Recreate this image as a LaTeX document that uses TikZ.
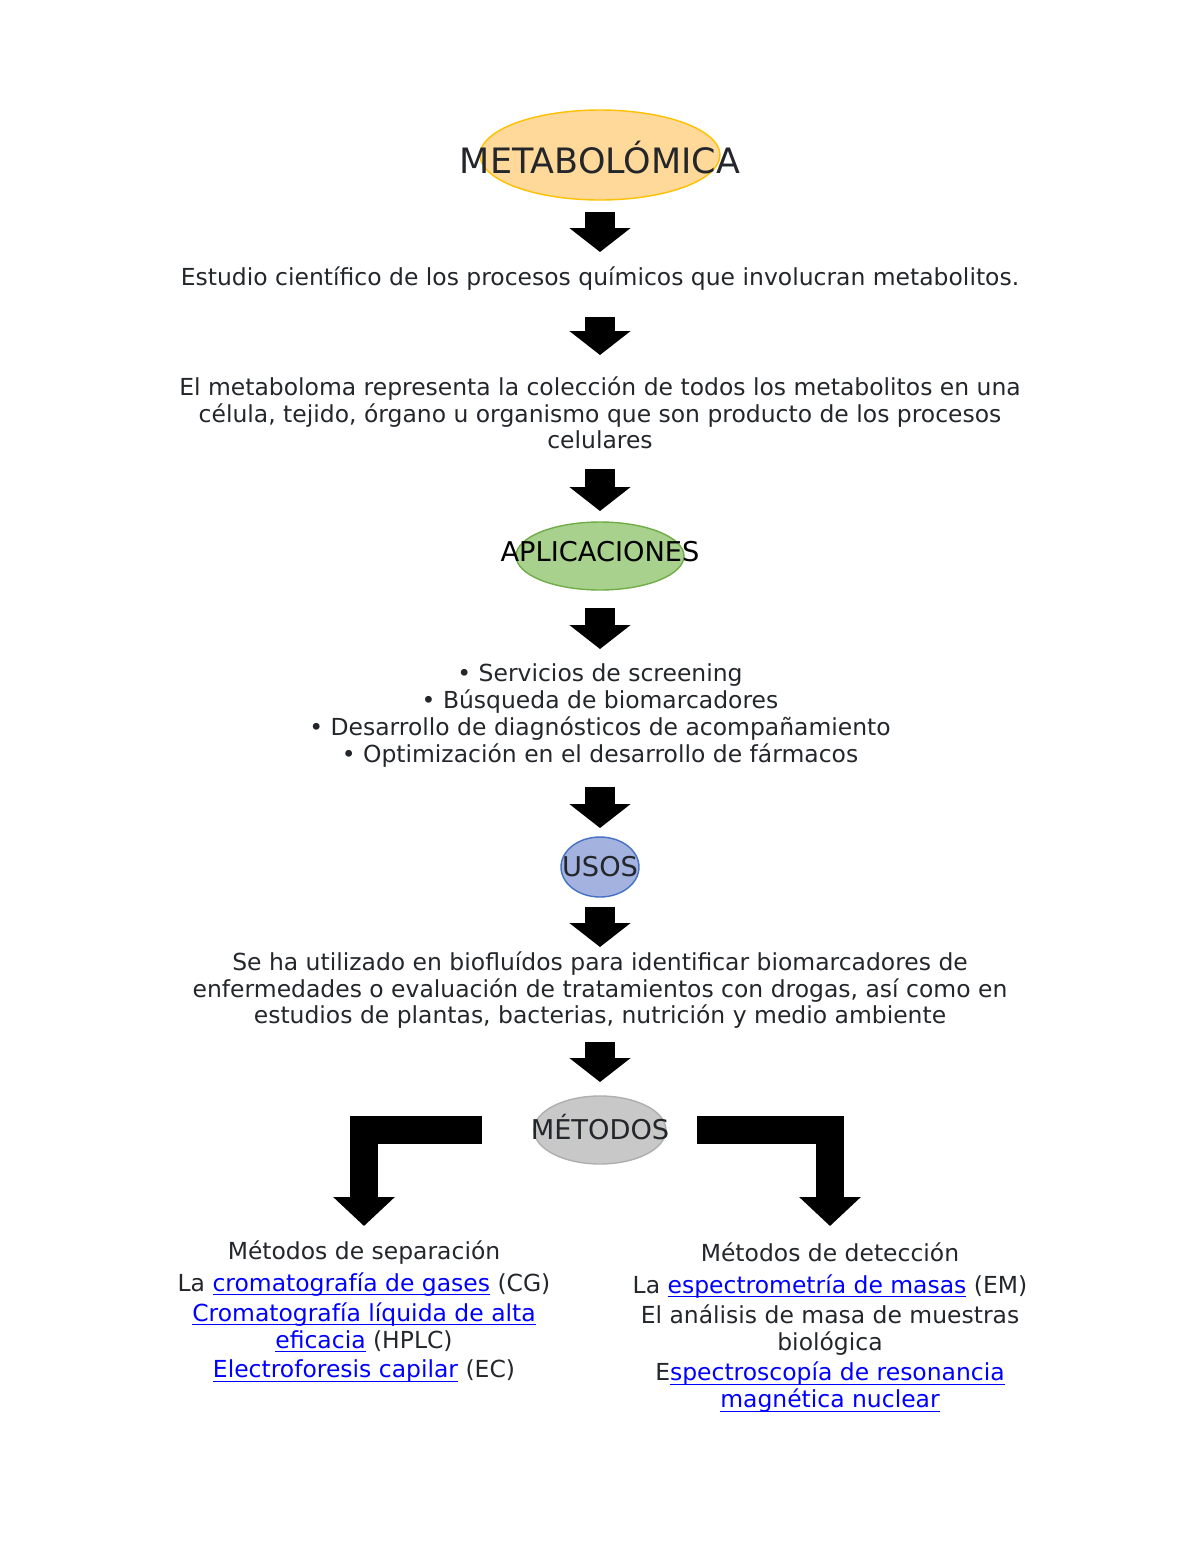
\documentclass[tikz,border=0pt]{standalone}
\usepackage{fontspec}
\setmainfont{DejaVu Sans}
\usetikzlibrary{arrows.meta,shapes.geometric}

\definecolor{inkgray}{RGB}{35,38,42}
\definecolor{linkblue}{RGB}{0,0,255}
\definecolor{orangefill}{RGB}{255,217,153}
\definecolor{orangeline}{RGB}{255,192,0}
\definecolor{greenfill}{RGB}{169,209,142}
\definecolor{greenline}{RGB}{112,173,71}
\definecolor{bluefill}{RGB}{164,178,224}
\definecolor{blueline}{RGB}{68,114,196}
\definecolor{grayfill}{RGB}{200,200,200}
\definecolor{grayline}{RGB}{175,175,175}

\newcommand{\lnk}[1]{\textcolor{linkblue}{\sbox0{#1}\rlap{\rule[-2.4pt]{\wd0}{0.7pt}}\usebox0}}

\begin{document}
\begin{tikzpicture}[x=0.02cm,y=-0.02cm,
    blockarr/.style={line width=0.6cm,-{Triangle[width=1.2cm,length=0.48cm]}},
    bentarr/.style={line width=0.56cm,-{Triangle[width=1.2cm,length=0.58cm]}},
    oval/.style={ellipse,draw,line width=0.8pt,inner sep=0pt},
    ovaltext/.style={font=\fontsize{15.5}{18}\selectfont,text=black},
    body/.style={font=\fontsize{13.35}{15.3}\selectfont,text=inkgray,align=center,inner sep=0pt,anchor=north}]

  \useasboundingbox (0,0) rectangle (1200,1553);

  % ovals
  \node[oval,fill=orangefill,draw=orangeline,minimum width=4.8cm,minimum height=1.8cm,
        label={[font=\fontsize{19.9}{22}\selectfont,text=inkgray,yshift=-0.06cm]center:METABOLÓMICA}] (meta) at (600,155) {};
  \node[oval,fill=greenfill,draw=greenline,minimum width=3.36cm,minimum height=1.36cm,
        label={[ovaltext,yshift=0.08cm]center:APLICACIONES}] (aplic) at (600,556) {};
  \node[oval,fill=bluefill,draw=blueline,minimum width=1.56cm,minimum height=1.2cm,
        label={[ovaltext,text=inkgray]center:USOS}] (usos) at (600,867) {};
  \node[oval,fill=grayfill,draw=grayline,minimum width=2.64cm,minimum height=1.36cm,
        label={[ovaltext,text=inkgray,yshift=0.06cm]center:MÉTODOS}] (metodos) at (600,1130) {};

  % text blocks
  \node[body] (estudio) at (600,266) {Estudio científico de los procesos químicos que involucran metabolitos.};
  \node[body] (metaboloma) at (600,376) {El metaboloma representa la colección de todos los metabolitos en una\\
    célula, tejido, órgano u organismo que son producto de los procesos\\ celulares};
  \node[body,font=\fontsize{13.35}{15.5}\selectfont] (bullets) at (600,663) {• Servicios de screening\\
    • Búsqueda de biomarcadores\\ • Desarrollo de diagnósticos de acompañamiento\\
    • Optimización en el desarrollo de fármacos};
  \node[body] (usostext) at (600,951) {Se ha utilizado en biofluídos para identificar biomarcadores de\\
    enfermedades o evaluación de tratamientos con drogas, así como en\\
    estudios de plantas, bacterias, nutrición y medio ambiente};
  \node[body] (sep) at (364,1240) {Métodos de separación\\[3pt]
    La \lnk{cromatografía de gases} (CG)\\[1.7pt]
    \lnk{Cromatografía líquida de alta}\\ \lnk{eficacia} (HPLC)\\[1.7pt]
    \lnk{Electroforesis capilar} (EC)};
  \node[body] (det) at (830,1242) {Métodos de detección\\[3pt]
    La \lnk{espectrometría de masas} (EM)\\[1.7pt]
    El análisis de masa de muestras\\ biológica\\[2.2pt]
    E\lnk{spectroscopía de resonancia}\\ \lnk{magnética nuclear}};

  % block arrows
  \draw[blockarr,shorten <=1.14cm,shorten >=0.28cm] (meta.center) -- (estudio.north);
  \draw[blockarr,shorten <=1.02cm,shorten >=0.42cm] (estudio.north) -- (metaboloma.north);
  \draw[blockarr,shorten <=1.86cm,shorten >=0.9cm] (metaboloma.north) -- (aplic.center);
  \draw[blockarr,shorten <=1.04cm,shorten >=0.28cm] (aplic.center) -- (bullets.north);
  \draw[blockarr,shorten <=2.48cm,shorten >=0.78cm] (bullets.north) -- (usos.center);
  \draw[blockarr,shorten <=0.8cm,shorten >=0.08cm] (usos.center) -- (usostext.north);
  \draw[blockarr,shorten <=1.82cm,shorten >=0.96cm] (usostext.north) -- (metodos.center);
  \draw[bentarr,shorten <=2.36cm,shorten >=0.28cm] (metodos.center) -| (sep.north);
  \draw[bentarr,shorten <=1.94cm,shorten >=0.32cm] (metodos.center) -| (det.north);
\end{tikzpicture}
\end{document}
